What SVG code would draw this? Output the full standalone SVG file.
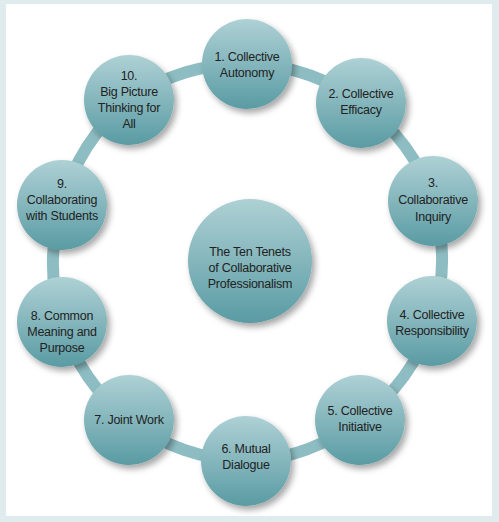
<svg xmlns="http://www.w3.org/2000/svg" width="499" height="522" viewBox="0 0 499 522">
<defs>
<linearGradient id="ball" x1="0" y1="0" x2="0" y2="1">
<stop offset="0" stop-color="#aed1d5"/>
<stop offset="1" stop-color="#5a9ba3"/>
</linearGradient>
<filter id="sh" x="-30%" y="-30%" width="170%" height="170%">
<feDropShadow dx="3" dy="4" stdDeviation="3" flood-color="#000" flood-opacity="0.35"/>
</filter>
<style>
.node circle{fill:url(#ball);filter:url(#sh)}
.node text{font-family:"Liberation Sans",Arial,sans-serif;font-size:12.5px;letter-spacing:-0.25px;fill:#222;text-anchor:middle}
.conn path{fill:none;stroke:#8dbdc2;stroke-width:12}
</style>
</defs>
<rect x="0" y="0" width="499" height="522" fill="#e0ebee"/>
<rect x="6" y="4" width="486" height="512" fill="#ffffff"/>
<g id="connectors" class="conn">
<path d="M247 64 A197 197 0 0 1 361 103"/>
<path d="M361 103 A197 197 0 0 1 433 201"/>
<path d="M433 201 A197 197 0 0 1 432 321"/>
<path d="M432 321 A197 197 0 0 1 360 420"/>
<path d="M360 420 A197 197 0 0 1 246 461"/>
<path d="M246 461 A197 197 0 0 1 129 420"/>
<path d="M129 420 A197 197 0 0 1 62 322"/>
<path d="M62 322 A197 197 0 0 1 62 205"/>
<path d="M62 205 A197 197 0 0 1 129 100"/>
<path d="M129 100 A197 197 0 0 1 247 64"/>
</g>
<g id="center" class="node"><circle cx="250" cy="261" r="62"/><text x="250" y="256">The Ten Tenets</text><text x="250" y="272">of Collaborative</text><text x="250" y="288">Professionalism</text></g>
<g id="n1" class="node"><circle cx="247" cy="64" r="45"/><text x="247" y="61">1. Collective</text><text x="247" y="77">Autonomy</text></g>
<g id="n2" class="node"><circle cx="361" cy="103" r="45"/><text x="361" y="98">2. Collective</text><text x="361" y="114">Efficacy</text></g>
<g id="n3" class="node"><circle cx="433" cy="201" r="45"/><text x="433" y="187">3.</text><text x="433" y="204">Collaborative</text><text x="433" y="221">Inquiry</text></g>
<g id="n4" class="node"><circle cx="432" cy="321" r="45"/><text x="432" y="319">4. Collective</text><text x="432" y="335">Responsibility</text></g>
<g id="n5" class="node"><circle cx="360" cy="420" r="45"/><text x="360" y="415">5. Collective</text><text x="360" y="431">Initiative</text></g>
<g id="n6" class="node"><circle cx="246" cy="461" r="45"/><text x="246" y="453">6. Mutual</text><text x="246" y="469">Dialogue</text></g>
<g id="n7" class="node"><circle cx="129" cy="420" r="45"/><text x="129" y="424">7. Joint Work</text></g>
<g id="n8" class="node"><circle cx="62" cy="322" r="45"/><text x="62" y="320">8. Common</text><text x="62" y="336">Meaning and</text><text x="62" y="352">Purpose</text></g>
<g id="n9" class="node"><circle cx="62" cy="205" r="45"/><text x="62" y="188">9.</text><text x="62" y="204">Collaborating</text><text x="62" y="220">with Students</text></g>
<g id="n10" class="node"><circle cx="129" cy="100" r="45"/><text x="129" y="80">10.</text><text x="129" y="96">Big Picture</text><text x="129" y="112">Thinking for</text><text x="129" y="128">All</text></g>
</svg>
